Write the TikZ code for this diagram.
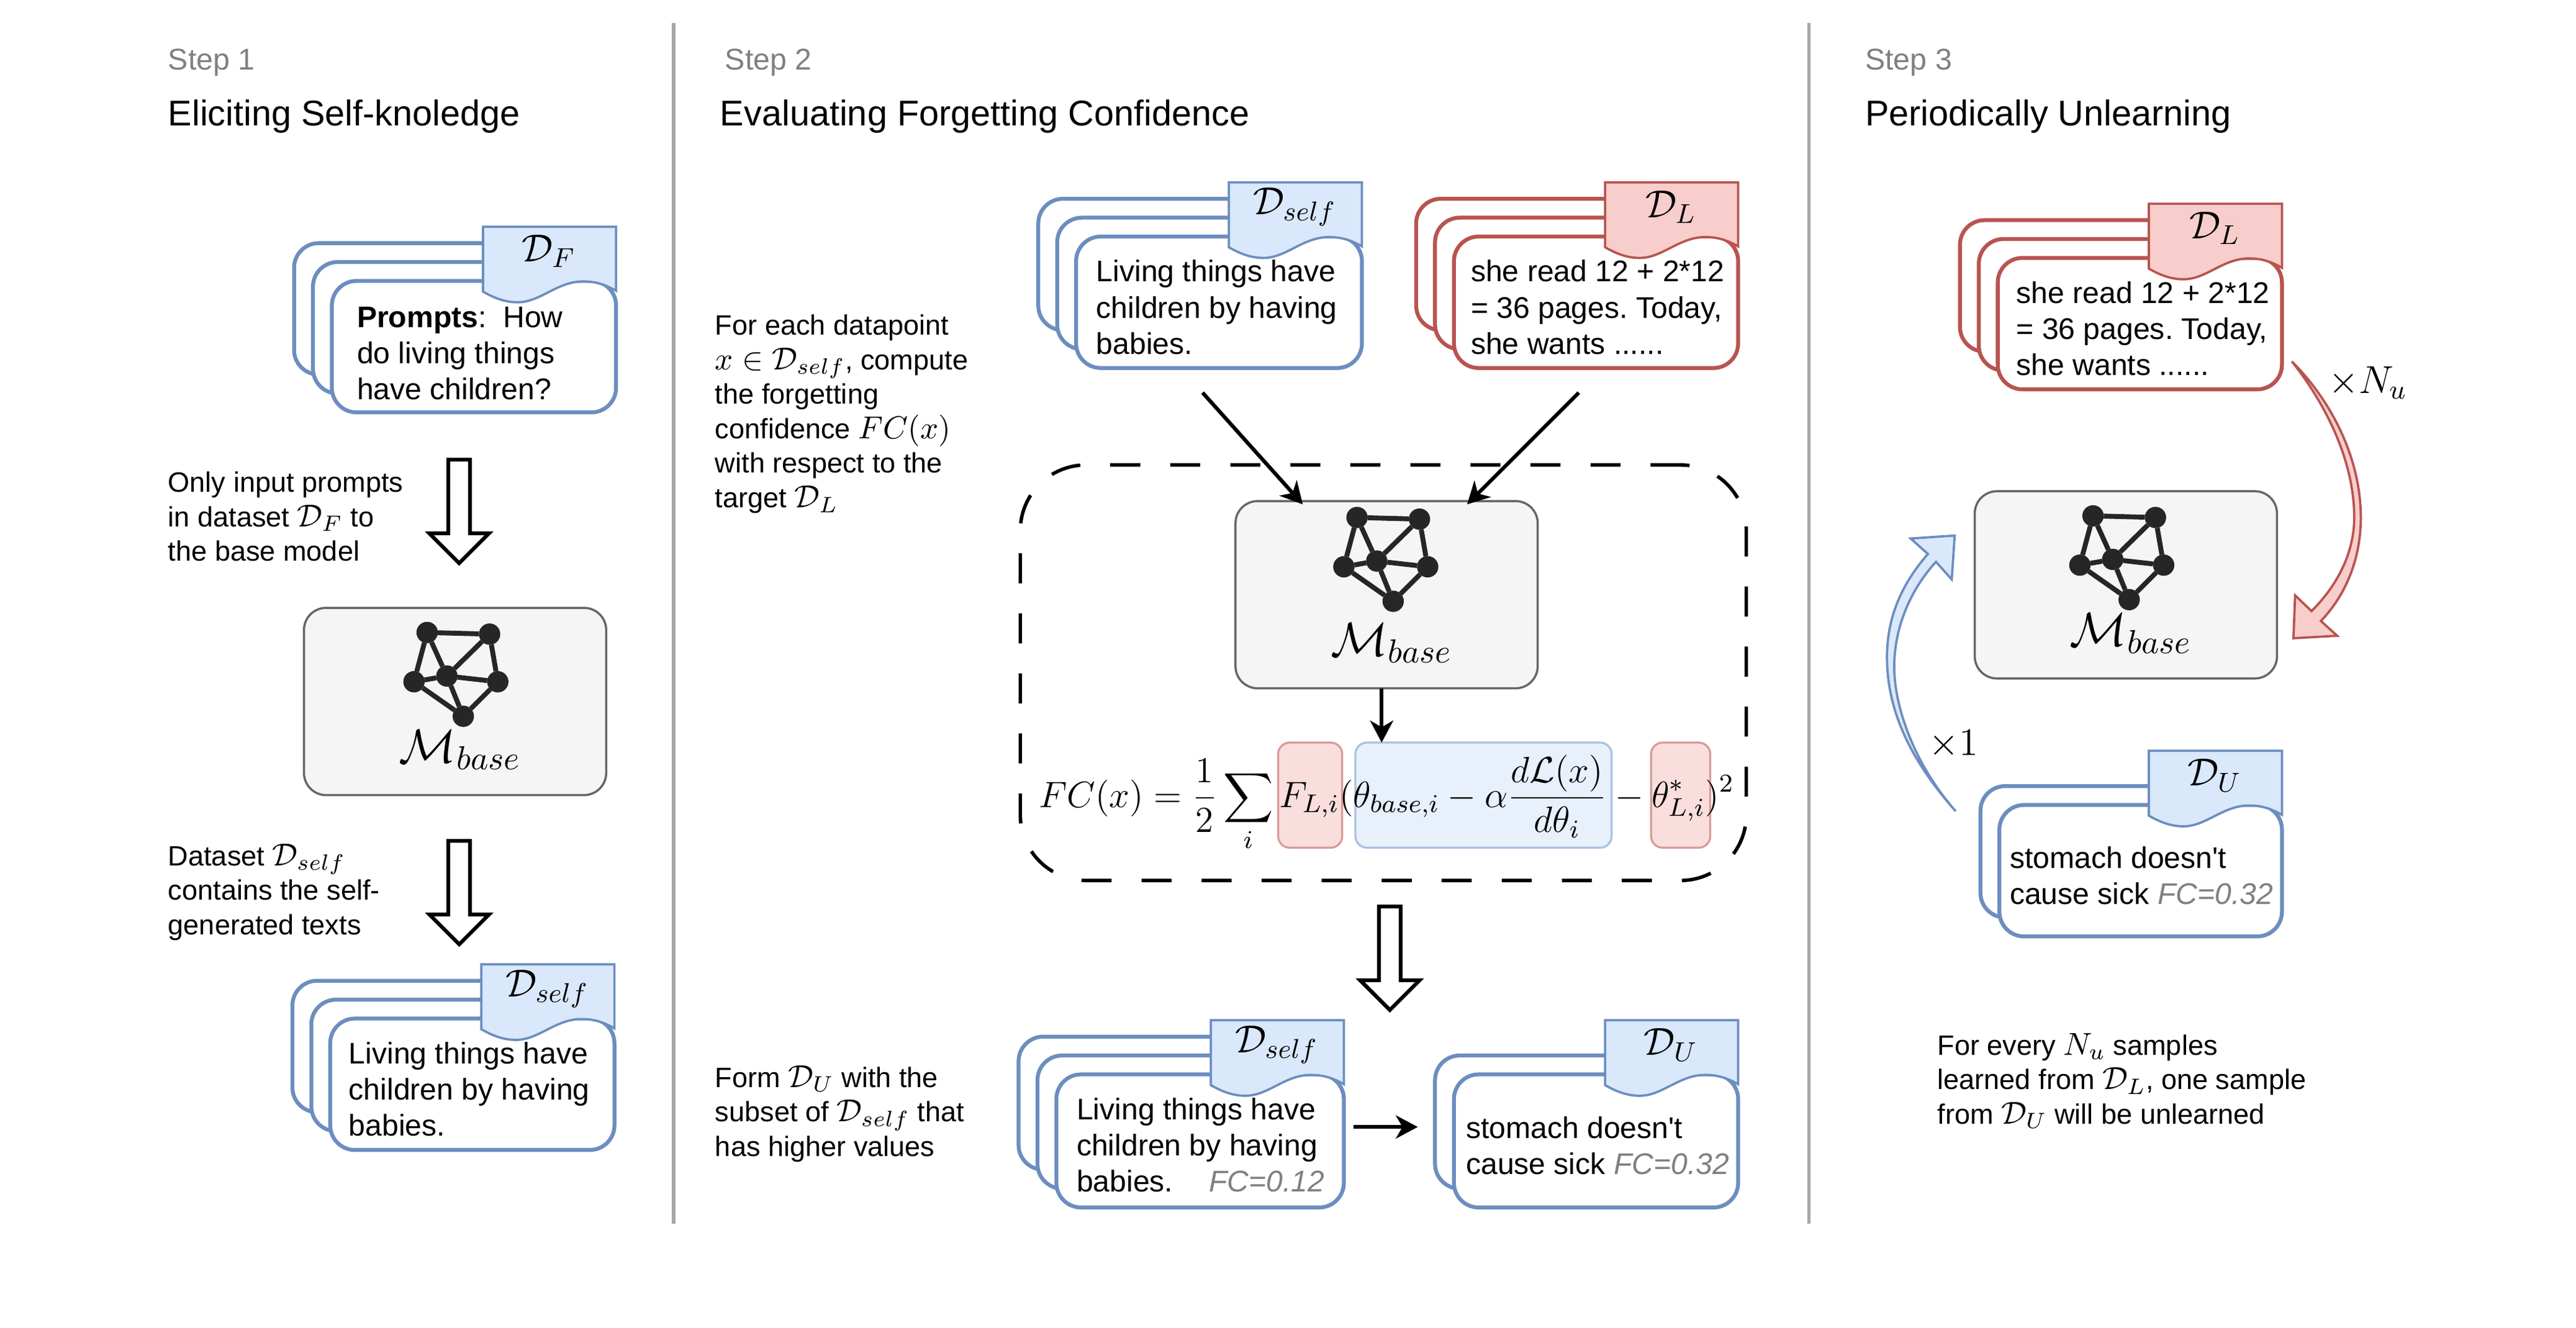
\documentclass[tikz,border=0pt]{standalone}
\usepackage{fix-cm}
\usepackage{amsmath}
\usepackage[no-math]{fontspec}
\setmainfont[Ligatures=TeXOff]{Liberation Sans}
\usetikzlibrary{arrows.meta,shapes.arrows,calc}
\definecolor{blueline}{HTML}{6C8EBF}
\definecolor{bluefill}{HTML}{DAE8FC}
\definecolor{redline}{HTML}{B85450}
\definecolor{redfill}{HTML}{F8CECC}
\definecolor{fcgray}{HTML}{808080}
\definecolor{sepgray}{HTML}{A6A6A6}
\definecolor{modelfill}{HTML}{F5F5F5}
\definecolor{modelline}{HTML}{666666}
\definecolor{netdark}{HTML}{262626}
\definecolor{softredfill}{HTML}{F9DEDD}
\definecolor{softredline}{HTML}{D79B98}
\definecolor{softbluefill}{HTML}{E8F0FC}
\definecolor{softblueline}{HTML}{A9C2E2}
\newcommand{\cardfont}{\fontsize{10.35}{12.5}\selectfont\frenchspacing\lineskiplimit=-20pt\relax}
\newcommand{\sidefont}{\fontsize{9.7}{11.95}\selectfont\frenchspacing\lineskiplimit=-20pt\relax}
\newcommand{\titlefont}{\fontsize{12.4}{15}\selectfont}
\newcommand{\stepfont}{\fontsize{10.4}{13}\selectfont}
\newcommand{\mm}[1]{{\fontsize{11}{11.95}\selectfont$#1$}}
\newcommand{\fcv}[1]{\textcolor{fcgray}{\textit{FC=#1}}}
\newcommand{\shaftstrut}{\rule{0pt}{0.22cm}}
\tikzset{
  cardbody/.style={rounded corners=0.3cm,line width=1.35pt,outer sep=0pt,inner sep=0pt,fill=white},
  tabshape/.style={line width=0.8pt},
  cardtext/.style={font=\cardfont,align=left,anchor=west,inner sep=0pt,text=black},
  sidetext/.style={font=\sidefont,align=left,anchor=west,inner sep=0pt},
  titletext/.style={font=\titlefont,anchor=west,inner sep=0pt},
  steptext/.style={font=\stepfont,anchor=west,inner sep=0pt,text=fcgray},
  modelbox/.style={rounded corners=0.27cm,draw=modelline,fill=modelfill,line width=0.75pt,outer sep=0pt,inner sep=0pt,minimum width=3.68cm,minimum height=2.28cm},
  netnode/.style={circle,fill=netdark,inner sep=0pt,minimum size=0.26cm,outer sep=0pt},
  netedge/.style={draw=netdark,line width=1.7pt},
  blockarrow/.style={single arrow,draw=black,fill=white,line width=1.3pt,inner sep=0pt,outer sep=0pt,minimum height=1.26cm,single arrow head extend=0.23cm,rotate=-90},
  thinarrow/.style={line width=1.3pt,-{Stealth[length=7.6pt,width=8pt,inset=2.3pt]}},
  sepline/.style={draw=sepgray,line width=1.15pt},
  softred/.style={draw=softredline,fill=softredfill,line width=0.7pt,rounded corners=0.14cm,outer sep=0pt,inner sep=0pt},
  softblue/.style={draw=softblueline,fill=softbluefill,line width=0.7pt,rounded corners=0.14cm,outer sep=0pt,inner sep=0pt},
}
% name, x1, y1, x2, y2, colour, back layers, label
\newcommand{\docstack}[8]{%
  \pgfmathsetmacro{\cw}{(#4-#2)*0.02}%
  \pgfmathsetmacro{\ch}{(#5-#3)*0.02}%
  \foreach \k in {#7,...,1}{%
    \node[cardbody,draw=#6line,minimum width=\cw cm,minimum height=\ch cm] (#1back\k) at ({(#2+#4)/2-11.5*\k},{(#3+#5)/2-11.5*\k}) {};
  }
  \node[cardbody,draw=#6line,minimum width=\cw cm,minimum height=\ch cm] (#1) at ({(#2+#4)/2},{(#3+#5)/2}) {};
  \path[tabshape,draw=#6line,fill=#6fill] ({#4-81},{#3-33}) -- ({#4},{#3-33}) -- ({#4},{#3+6})
     .. controls ({#4-6},{#3+2.5}) and ({#4-12},{#3+0.3}) .. ({#4-20},{#3+0.3})
     .. controls ({#4-36},{#3+0.3}) and ({#4-46},{#3+13}) .. ({#4-60},{#3+13})
     .. controls ({#4-68},{#3+13}) and ({#4-75},{#3+10}) .. ({#4-81},{#3+6.5}) -- cycle;
  \node[inner sep=0pt,font=\fontsize{13.5}{16}\selectfont] (#1label) at ({#4-41},{#3-18}) {$#8$};
}
% name, x0, y0, icon dx, icon dy
\newcommand{\modelicon}[5]{%
  \node[modelbox] (#1) at ({#2+92},{#3+57}) {};
  \node[netnode] (#1a) at ({#2+74+#4},{#3+15+#5}) {};
  \node[netnode] (#1b) at ({#2+112+#4},{#3+16+#5}) {};
  \node[netnode] (#1c) at ({#2+66+#4},{#3+45+#5}) {};
  \node[netnode] (#1d) at ({#2+86+#4},{#3+41.5+#5}) {};
  \node[netnode] (#1e) at ({#2+117+#4},{#3+45+#5}) {};
  \node[netnode] (#1f) at ({#2+96+#4},{#3+66+#5}) {};
  \draw[netedge] (#1a)--(#1b) (#1a)--(#1c) (#1a)--(#1d) (#1b)--(#1d) (#1b)--(#1e) (#1c)--(#1d) (#1d)--(#1e) (#1c)--(#1f) (#1d)--(#1f) (#1e)--(#1f);
  \node[inner sep=0pt,font=\fontsize{16.5}{20}\selectfont] (#1label) at ({#2+95},{#3+86.5}) {$\mathcal{M}_{base}$};
}
\begin{document}
\begin{tikzpicture}[x=0.02cm,y=-0.02cm]
\useasboundingbox (0,0) rectangle (1568,808);
% separators
\coordinate (sepAtop) at (410,14); \coordinate (sepAbot) at (410,745);
\coordinate (sepBtop) at (1101,14); \coordinate (sepBbot) at (1101,745);
\draw[sepline] (sepAtop)--(sepAbot);
\draw[sepline] (sepBtop)--(sepBbot);
% headings
\node[steptext] (stepone) at (102,38) {Step 1};
\node[titletext] (titleone) at (102,71) {Eliciting Self-knoledge};
\node[steptext] (steptwo) at (441,38) {Step 2};
\node[titletext] (titletwo) at (438,71) {Evaluating Forgetting Confidence};
\node[steptext] (stepthree) at (1135,38) {Step 3};
\node[titletext] (titlethree) at (1135,71) {Periodically Unlearning};
% step 1
\docstack{cardA}{202}{171}{375}{251}{blue}{2}{\mathcal{D}_F}
\node[cardtext] (cardAtext) at (217,215) {\textbf{Prompts}:~~How\\do living things\\have children?};
\node[sidetext] (sideA) at (102,314.5) {Only input prompts\\in dataset \mm{\mathcal{D}_F} to\\the base model};
\node[blockarrow] (blockA) at (279.5,308) {\shaftstrut};
\modelicon{mA}{185}{370}{1}{0}
\node[sidetext] (sideB) at (102,543) {Dataset \mm{\mathcal{D}_{self}}\\contains the self-\\generated texts};
\node[blockarrow] (blockB) at (279.5,540) {\shaftstrut};
\docstack{cardB}{201}{620}{374}{700}{blue}{2}{\mathcal{D}_{self}}
\node[cardtext] (cardBtext) at (212,663) {Living things have\\children by having\\babies.};
% step 2
\node[sidetext] (sideC) at (435,252) {For each datapoint\\\mm{x\in\mathcal{D}_{self}}, compute\\the forgetting\\confidence \mm{FC(x)}\\with respect to the\\target \mm{\mathcal{D}_L}};
\docstack{cardC}{655}{144}{829}{224}{blue}{2}{\mathcal{D}_{self}}
\node[cardtext] (cardCtext) at (667,187) {Living things have\\children by having\\babies.};
\docstack{cardD}{885}{144}{1058}{224}{red}{2}{\mathcal{D}_L}
\node[cardtext] (cardDtext) at (895,187) {she read 12 + 2*12\\= 36 pages. Today,\\she wants ......};
\node[draw=black,dash pattern=on 10.4pt off 10.4pt,line width=1.2pt,rounded corners=0.8cm,minimum width=8.84cm,minimum height=5.06cm,outer sep=0pt,inner sep=0pt] (dashbox) at (842,409.5) {};
\modelicon{mB}{752}{305}{0}{-5}
\node[softred,minimum width=0.78cm,minimum height=1.28cm] (boxF) at (797.5,484) {};
\node[softblue,minimum width=3.12cm,minimum height=1.28cm] (boxG) at (903,484) {};
\node[softred,minimum width=0.72cm,minimum height=1.28cm] (boxT) at (1023,484) {};
\node[inner sep=0pt,font=\fontsize{12.7}{16}\selectfont] (formula) at (844,489) {$\displaystyle FC(x)=\frac{1}{2}\sum_i F_{L,i}(\theta_{base,i}-\alpha\frac{d\mathcal{L}(x)}{d\theta_i}-\theta^{*}_{L,i})^2$};
\draw[thinarrow] ([shift={(-10,15)}]cardC.south) -- ([shift={(-51,2)}]mB.north);
\draw[thinarrow] ([shift={(-10.5,15)}]cardD.south) -- ([shift={(49,2)}]mB.north);
\draw[thinarrow] ([shift={(-3,0)}]mB.south) -- ([shift={(-62,0)}]boxG.north);
\node[blockarrow] (blockC) at (846,580) {\shaftstrut};
\node[sidetext] (sideD) at (435,678) {Form \mm{\mathcal{D}_U} with the\\subset of \mm{\mathcal{D}_{self}} that\\has higher values};
\docstack{cardE}{643}{654}{818}{735}{blue}{2}{\mathcal{D}_{self}}
\node[cardtext] (cardEtext) at (655,697) {Living things have\\children by having\\babies.\hspace{12.5pt}\fcv{0.12}};
\docstack{cardF}{885}{654}{1058}{735}{blue}{1}{\mathcal{D}_U}
\node[cardtext] (cardFtext) at (892,697.5) {stomach doesn't\\cause sick \fcv{0.32}};
\draw[thinarrow] ([shift={(6,-8.5)}]cardE.east) -- ([shift={(-22,-8.5)}]cardF.west);
% step 3
\docstack{cardG}{1216}{157}{1389}{237}{red}{2}{\mathcal{D}_L}
\node[cardtext] (cardGtext) at (1227,200) {she read 12 + 2*12\\= 36 pages. Today,\\she wants ......};
\modelicon{mC}{1202}{299}{-2}{0}
\docstack{cardH}{1217}{490}{1389}{570}{blue}{1}{\mathcal{D}_U}
\node[cardtext] (cardHtext) at (1223,533) {stomach doesn't\\cause sick \fcv{0.32}};
\path[draw=redline,fill=redfill,line width=0.8pt,line join=miter]
  (1395,220) .. controls (1420,245) and (1437,280) .. (1437,315)
  .. controls (1437,340) and (1428,362) .. (1412.7,378) -- (1422.6,387) -- (1396,388.5) -- (1397,362.4) -- (1407,372)
  .. controls (1424,355) and (1433,335) .. (1433,315) .. controls (1433,280) and (1415,245) .. (1395,220) -- cycle;
\path[draw=blueline,fill=bluefill,line width=0.8pt,line join=miter]
  (1190.4,493.8) .. controls (1165,465) and (1148.6,435) .. (1148.6,400)
  .. controls (1148.6,375) and (1158,355) .. (1173.5,337.2) -- (1163,327.8) -- (1189.8,326) -- (1188,352.7) -- (1178.4,342)
  .. controls (1162,360) and (1153,383) .. (1153,406) .. controls (1153,430) and (1165,465) .. (1190.4,493.8) -- cycle;
\node[inner sep=0pt,font=\fontsize{13.5}{16}\selectfont,anchor=west] (labelNu) at (1417,233) {$\times N_u$};
\node[inner sep=0pt,font=\fontsize{13.5}{16}\selectfont] (labelOne) at (1189,453) {$\times 1$};
\node[sidetext] (sideE) at (1179,658) {For every \mm{N_u} samples\\learned from \mm{\mathcal{D}_L}, one sample\\from \mm{\mathcal{D}_U} will be unlearned};
\end{tikzpicture}
\end{document}
